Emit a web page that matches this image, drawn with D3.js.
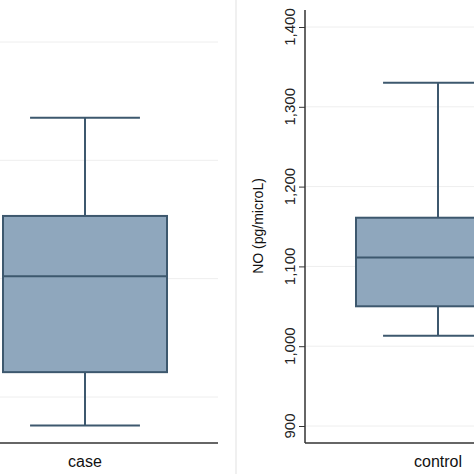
<!DOCTYPE html><html><head><meta charset="utf-8">
<script src="https://cdn.jsdelivr.net/npm/d3@7"></script>
<style>body{margin:0;background:#fff}</style></head><body><svg id="c" width="474" height="474"></svg>
<script>
const groups = ["case","control"];
const leftTicks = [100,200,300,400];
const rightTicks = [900,1000,1100,1200,1300,1400];
const caseStats = {lo:76, q1:121, med:202, q3:253, hi:336};
const controlStats = {lo:1013, q1:1050, med:1111, q3:1161, hi:1330};

const svg = d3.select("#c");
const fill = "#8fa7bd", stroke = "#3d586e", font = "Liberation Sans, Arial, sans-serif";
const bottom = 443;

svg.append("line").attr("x1",236).attr("x2",236).attr("y1",0).attr("y2",474).attr("stroke","#f0f0f0").attr("stroke-width",2);

function panel(ax0, ax1, bx0, bx1, yScale, ticks, stats, cat, showAxis){
  const g = svg.append("g");
  const x = d3.scaleBand().domain([cat]).range([bx0,bx1]).paddingInner(0).paddingOuter(0.25);
  g.selectAll(".grid").data(ticks).join("line")
    .attr("x1",ax0).attr("x2",ax1).attr("y1",d=>yScale(d)).attr("y2",d=>yScale(d))
    .attr("stroke","#eeeeee").attr("stroke-width",1);
  const cx = x(cat)+x.bandwidth()/2, bw = x.bandwidth(), cw = bw*0.67;
  g.append("line").attr("x1",cx).attr("x2",cx).attr("y1",yScale(stats.hi)).attr("y2",yScale(stats.q3)).attr("stroke",stroke).attr("stroke-width",2);
  g.append("line").attr("x1",cx).attr("x2",cx).attr("y1",yScale(stats.q1)).attr("y2",yScale(stats.lo)).attr("stroke",stroke).attr("stroke-width",2);
  [stats.hi,stats.lo].forEach(v=>g.append("line").attr("x1",cx-cw/2).attr("x2",cx+cw/2).attr("y1",yScale(v)).attr("y2",yScale(v)).attr("stroke",stroke).attr("stroke-width",2));
  g.append("rect").attr("x",x(cat)).attr("width",bw).attr("y",yScale(stats.q3)).attr("height",yScale(stats.q1)-yScale(stats.q3)).attr("fill",fill).attr("stroke",stroke).attr("stroke-width",2);
  g.append("line").attr("x1",x(cat)).attr("x2",x(cat)+bw).attr("y1",yScale(stats.med)).attr("y2",yScale(stats.med)).attr("stroke",stroke).attr("stroke-width",2);
  g.append("line").attr("x1",ax0).attr("x2",ax1).attr("y1",bottom).attr("y2",bottom).attr("stroke","#333").attr("stroke-width",1.5);
  g.append("text").attr("x",cx).attr("y",467).attr("text-anchor","middle").attr("font-family",font).attr("font-size",16).attr("fill","#111").text(cat);
  if(showAxis){
    const ax = g.append("g").attr("transform",`translate(${ax0},0)`).call(d3.axisLeft(yScale).tickValues(ticks).tickFormat("").tickSize(6));
    ax.select(".domain").attr("d",`M0,10V${bottom}`).attr("stroke","#333").attr("stroke-width",1.5);
    ax.selectAll(".tick line").attr("stroke","#333");
    g.selectAll(".tl").data(ticks).join("text")
      .attr("transform",d=>`translate(${ax0-10},${yScale(d)}) rotate(-90)`)
      .attr("text-anchor","middle").attr("font-family",font).attr("font-size",15).attr("fill","#222")
      .text(d=>d3.format(",")(d));
    g.append("text").attr("transform",`translate(${ax0-42},${226}) rotate(-90)`).attr("text-anchor","middle").attr("font-family",font).attr("font-size",14).attr("fill","#111").text("NO (pg/microL)");
  }
}

const yL = d3.scaleLinear().domain([100,400]).range([397,42]);
const yR = d3.scaleLinear().domain([900,1400]).range([426,27]);
panel(-80, 218, -38, 208, yL, leftTicks, caseStats, groups[0], false);
panel(305, 480, 315, 561, yR, rightTicks, controlStats, groups[1], true);
</script></body></html>
